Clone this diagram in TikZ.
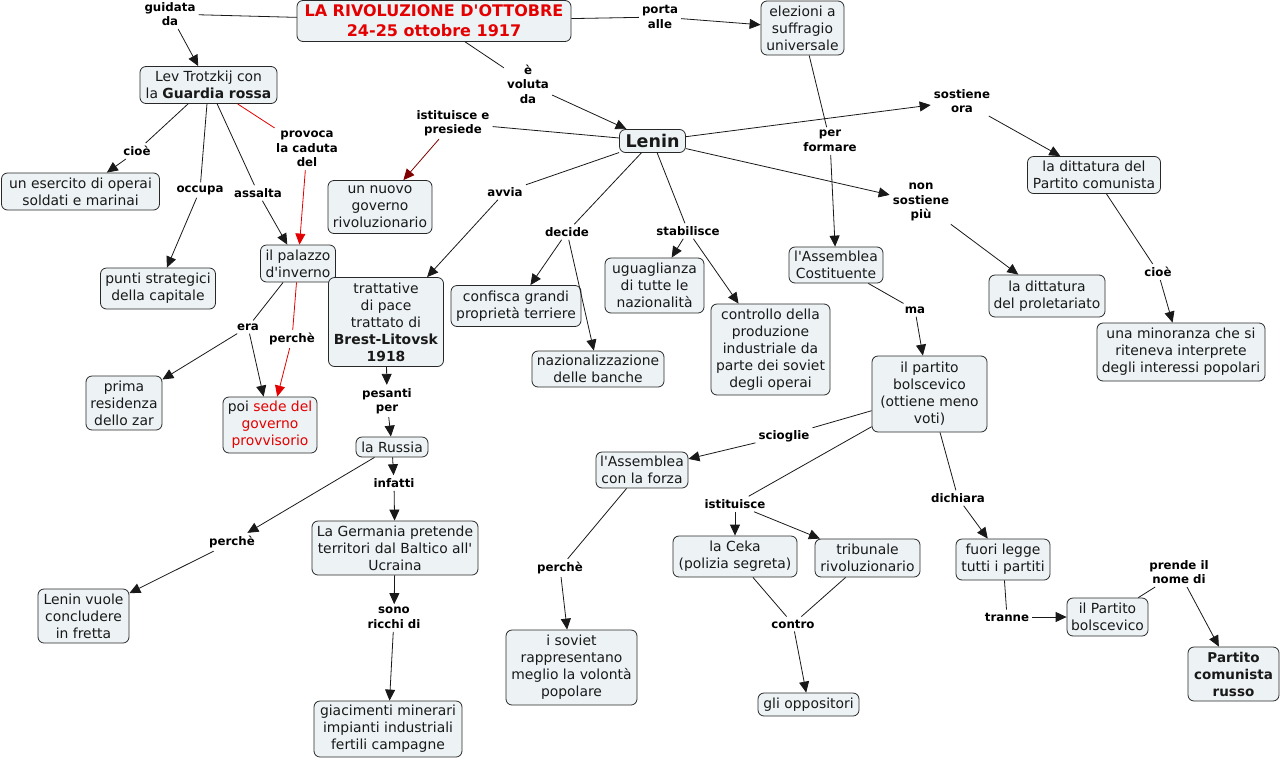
\documentclass[tikz,border=0pt]{standalone}
\usepackage{fontspec}
\setmainfont{DejaVu Sans}[Ligatures=TeXOff]
\usetikzlibrary{arrows.meta}
\definecolor{boxfill}{RGB}{237,243,245}
\definecolor{boxline}{RGB}{40,40,40}
\definecolor{myred}{RGB}{228,0,0}
\definecolor{darkred}{RGB}{128,0,0}
\definecolor{txt}{RGB}{25,25,25}
\tikzset{
  box/.style={draw=boxline, fill=boxfill, rounded corners=6pt, line width=0.8pt,
    align=center, inner sep=1pt, text=txt, font=\fontsize{13.9}{17}\selectfont},
  sz/.style 2 args={minimum width=#1, minimum height=#2},
  lbl/.style={align=center, inner sep=3pt, text=black, font=\fontsize{11.8}{14.5}\selectfont\bfseries},
  con/.style={draw=black!90, line width=0.8pt},
  arr/.style={con, -{Triangle[length=11pt,width=10pt]}},
  redcon/.style={draw=myred, line width=0.8pt},
  redarr/.style={redcon, -{Triangle[length=11pt,width=10pt]}},
}
\begin{document}
\begin{tikzpicture}[x=1pt,y=-1pt]
\useasboundingbox (0,0) rectangle (1282,761);
% concepts
\node[box, sz={274}{41}, text=myred, font=\fontsize{16}{20}\selectfont\bfseries] (title) at (434,21) {LA RIVOLUZIONE D'OTTOBRE\\24-25 ottobre 1917};
\node[box, sz={83}{54}] (elez) at (802.5,28) {elezioni a\\suffragio\\universale};
\node[box, sz={137}{37}] (lev) at (208.5,85) {Lev Trotzkij con\\la \textbf{Guardia rossa}};
\node[box, sz={66}{23}, font=\fontsize{17.5}{20}\selectfont\bfseries] (lenin) at (652.5,141) {Lenin};
\node[box, sz={158}{37}] (eserc) at (80.5,191.5) {un esercito di operai\\soldati e marinai};
\node[box, sz={104}{53}] (nuovo) at (380,207) {un nuovo\\governo\\rivoluzionario};
\node[box, sz={133}{37}] (dittP) at (1094,175) {la dittatura del\\Partito comunista};
\node[box, sz={115}{41}] (punti) at (158,288.5) {punti strategici\\della capitale};
\node[box, sz={75}{37}] (palazzo) at (298,263.5) {il palazzo\\d'inverno};
\node[box, sz={115}{89}] (tratt) at (386,322) {trattative\\di pace\\trattato di\\\textbf{Brest-Litovsk}\\\textbf{1918}};
\node[box, sz={130}{41}] (confisca) at (516,306) {confisca grandi\\proprietà terriere};
\node[box, sz={99}{55}] (ugu) at (654.5,285.5) {uguaglianza\\di tutte le\\nazionalità};
\node[box, sz={119}{91}] (contr) at (770.5,349.5) {controllo della\\produzione\\industriale da\\parte dei soviet\\degli operai};
\node[box, sz={132}{36}] (naz) at (598,369) {nazionalizzazione\\delle banche};
\node[box, sz={94}{36}] (assC) at (836,265) {l'Assemblea\\Costituente};
\node[box, sz={116}{42}] (dittPr) at (1047,296) {la dittatura\\del proletariato};
\node[box, sz={168}{58}] (mino) at (1181,352) {una minoranza che si\\riteneva interprete\\degli interessi popolari};
\node[box, sz={115}{76}] (pbols) at (929.5,394) {il partito\\bolscevico\\(ottiene meno\\voti)};
\node[box, sz={76}{54}] (prima) at (124,403) {prima\\residenza\\dello zar};
\node[box, sz={94}{56}] (poisede) at (270,425) {poi \textcolor{myred}{sede del}\\\textcolor{myred}{governo}\\\textcolor{myred}{provvisorio}};
\node[box, sz={72}{20}] (russia) at (392,447) {la Russia};
\node[box, sz={92}{36}] (assF) at (642,470) {l'Assemblea\\con la forza};
\node[box, sz={166}{54}] (germ) at (395,548) {La Germania pretende\\territori dal Baltico all'\\Ucraina};
\node[box, sz={91}{54}] (lvuole) at (83.5,616) {Lenin vuole\\concludere\\in fretta};
\node[box, sz={124}{41}] (ceka) at (735,556.5) {la Ceka\\(polizia segreta)};
\node[box, sz={105}{38}] (trib) at (867.5,558) {tribunale\\rivoluzionario};
\node[box, sz={94}{41}] (fuori) at (1003,559.5) {fuori legge\\tutti i partiti};
\node[box, sz={81}{38}] (pb2) at (1107.5,617) {il Partito\\bolscevico};
\node[box, sz={91}{54}, font=\fontsize{13.5}{17}\selectfont\bfseries] (pcr) at (1233.5,674) {Partito\\comunista\\russo};
\node[box, sz={131}{75}] (soviet) at (571.5,667.5) {i soviet\\rappresentano\\meglio la volontà\\popolare};
\node[box, sz={101}{23}] (oppo) at (808.5,704.5) {gli oppositori};
\node[box, sz={148}{56}] (giac) at (388,729) {giacimenti minerari\\impianti industriali\\fertili campagne};
% linking phrases
\node[lbl] (lguid) at (170,14) {guidata\\da};
\node[lbl] (lporta) at (660,17) {porta\\alle};
\node[lbl] (lvol) at (528,84) {è\\voluta\\da};
\node[lbl] (list) at (453,123) {istituisce e\\presiede};
\node[lbl] (lprov) at (307,149) {provoca\\la caduta\\del};
\node[lbl] (lcioeA) at (137,151) {cioè};
\node[lbl] (locc) at (200,190) {occupa};
\node[lbl] (lass) at (258,193) {assalta};
\node[lbl] (lavvia) at (505,192) {avvia};
\node[lbl] (ldec) at (567,232) {decide};
\node[lbl] (lstab) at (688,231) {stabilisce};
\node[lbl] (lsost) at (962,101) {sostiene\\ora};
\node[lbl] (lnons) at (921,202) {non\\sostiene\\più};
\node[lbl] (lper) at (830,141) {per\\formare};
\node[lbl] (lcioeB) at (1158,272) {cioè};
\node[lbl] (lma) at (915,310) {ma};
\node[lbl] (lera) at (248,327) {era};
\node[lbl] (lpercA) at (292,339) {perchè};
\node[lbl] (lpes) at (387,401) {pesanti\\per};
\node[lbl] (linf) at (394,483) {infatti};
\node[lbl] (lpercB) at (232,542) {perchè};
\node[lbl] (lsono) at (394,618) {sono\\ricchi di};
\node[lbl] (lsciog) at (784,436) {scioglie};
\node[lbl] (listit) at (735,504) {istituisce};
\node[lbl] (ldich) at (958,498) {dichiara};
\node[lbl] (lpercC) at (560,568) {perchè};
\node[lbl] (lcontro) at (793,624) {contro};
\node[lbl] (ltranne) at (1007,617) {tranne};
\node[lbl] (lprende) at (1179,572) {prende il\\nome di};
% connectors
\draw[con] (title) -- (lguid);
\draw[arr] (lguid) -- (lev);
\draw[con] (title) -- (lporta);
\draw[arr] (lporta) -- (elez);
\draw[con] (title) -- (lvol);
\draw[arr] (lvol) -- (lenin);
\draw[con] (lenin) -- (list);
\draw[con, draw=darkred, -{Triangle[length=11pt,width=10pt]}] (list) -- (nuovo);
\draw[redcon] (lev) -- (lprov);
\draw[redarr] (lprov) -- (palazzo);
\draw[con] (lev) -- (lcioeA);
\draw[arr] (lcioeA) -- (eserc);
\draw[con] (lev) -- (locc);
\draw[arr] (locc) -- (punti);
\draw[con] (lev) -- (lass);
\draw[arr] (lass) -- (palazzo);
\draw[con] (lenin) -- (lavvia);
\draw[arr] (lavvia) -- (tratt);
\draw[con] (lenin) -- (ldec);
\draw[arr] (ldec) -- (confisca);
\draw[arr] (ldec) -- (naz);
\draw[con] (lenin) -- (lstab);
\draw[arr] (lstab) -- (ugu);
\draw[arr] (lstab) -- (contr);
\draw[arr] (lenin) -- (lsost);
\draw[arr] (lsost) -- (dittP);
\draw[arr] (lenin) -- (lnons);
\draw[arr] (lnons) -- (dittPr);
\draw[con] (elez) -- (lper);
\draw[arr] (lper) -- (assC);
\draw[con] (dittP) -- (lcioeB);
\draw[arr] (lcioeB) -- (mino);
\draw[con] (assC) -- (lma);
\draw[arr] (lma) -- (pbols);
\draw[con] (palazzo) -- (lera);
\draw[arr] (lera) -- (prima);
\draw[arr] (lera) -- (poisede);
\draw[redcon] (palazzo) -- (lpercA);
\draw[redarr] (lpercA) -- (poisede);
\draw[arr] (tratt) -- (lpes);
\draw[arr] (lpes) -- (russia);
\draw[arr] (russia) -- (linf);
\draw[arr] (linf) -- (germ);
\draw[arr] (russia) -- (lpercB);
\draw[arr] (lpercB) -- (lvuole);
\draw[arr] (germ) -- (lsono);
\draw[arr] (lsono) -- (giac);
\draw[con] (pbols) -- (lsciog);
\draw[arr] (lsciog) -- (assF);
\draw[con] (pbols) -- (listit);
\draw[arr] (listit) -- (ceka);
\draw[arr] (listit) -- (trib);
\draw[con] (pbols) -- (ldich);
\draw[arr] (ldich) -- (fuori);
\draw[con] (assF) -- (lpercC);
\draw[arr] (lpercC) -- (soviet);
\draw[con] (ceka) -- (lcontro);
\draw[con] (trib) -- (lcontro);
\draw[arr] (lcontro) -- (oppo);
\draw[con] (fuori) -- (ltranne);
\draw[arr] (ltranne) -- (pb2);
\draw[con] (pb2) -- (lprende);
\draw[arr] (lprende) -- (pcr);
\end{tikzpicture}
\end{document}
